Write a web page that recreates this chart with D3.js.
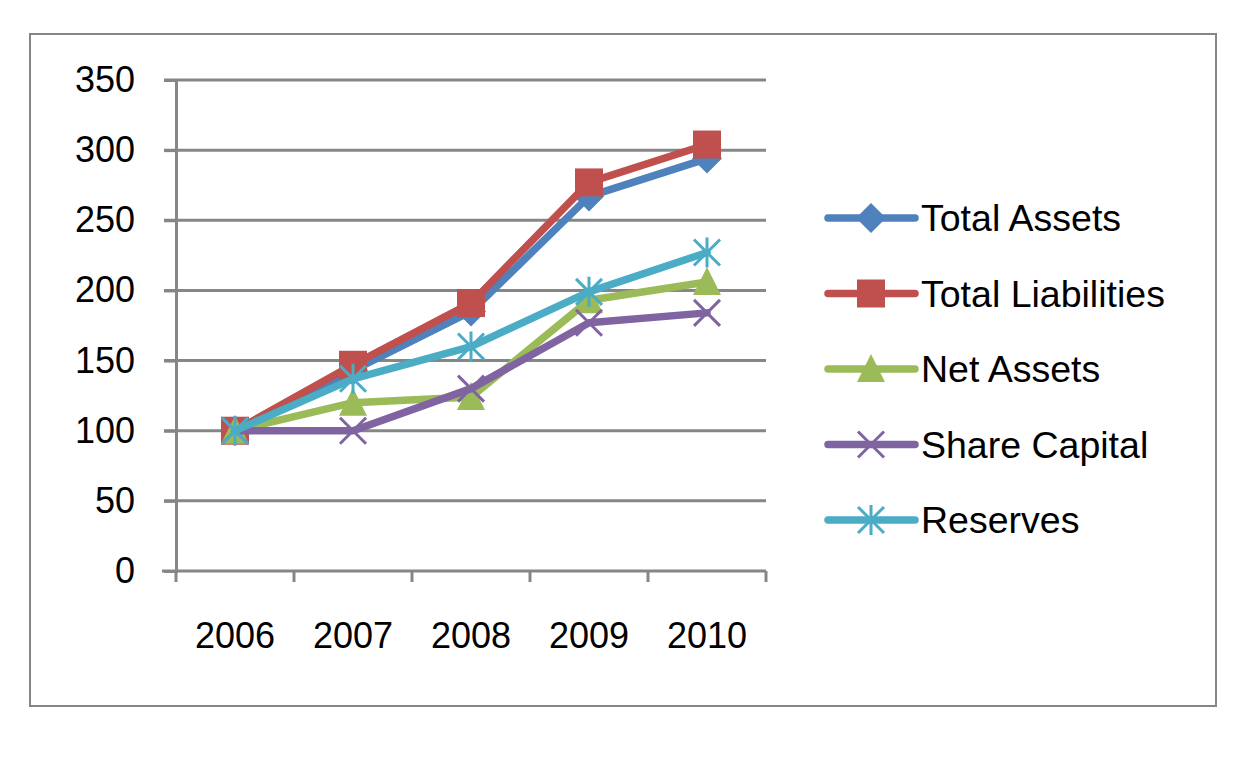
<!DOCTYPE html>
<html>
<head>
<meta charset="utf-8">
<script src="https://cdn.jsdelivr.net/npm/d3@7"></script>
<style>
  body { margin: 0; background: #fff; }
  text { font-family: "Liberation Sans", Arial, sans-serif; fill: #000; }
</style>
</head>
<body>
<script>
var years = ["2006", "2007", "2008", "2009", "2010"];
var yTicks = [0, 50, 100, 150, 200, 250, 300, 350];

var seriesNames = ["Total Assets", "Total Liabilities", "Net Assets", "Share Capital", "Reserves"];
var totalAssets = [100, 143, 185, 267, 294];
var totalLiabilities = [100, 147, 191, 277, 304];
var netAssets = [100, 120, 124, 193, 206];
var shareCapital = [100, 100, 130, 177, 184];
var reserves = [100, 137, 160, 199, 227];

var seriesColors = ["#4F81BD", "#C0504D", "#9BBB59", "#8064A2", "#4BACC6"];
var seriesMarkers = ["diamond", "square", "triangle", "x", "star"];

var seriesList = [totalAssets, totalLiabilities, netAssets, shareCapital, reserves].map(function (vals, i) {
    return { name: seriesNames[i], values: vals, color: seriesColors[i], marker: seriesMarkers[i] };
});

var svgDim = { width: 1241, height: 770 };
var plot = { left: 176, right: 766, top: 80, bottom: 571 };
var gridColor = "#868686";

var svg = d3.select("body").append("svg")
    .attr("width", svgDim.width)
    .attr("height", svgDim.height);

// chart border
svg.append("rect")
    .attr("x", 30).attr("y", 34)
    .attr("width", 1186).attr("height", 672)
    .attr("fill", "#fff")
    .attr("stroke", gridColor)
    .attr("stroke-width", 2);

var x = d3.scaleBand().domain(years).range([plot.left, plot.right]);
var y = d3.scaleLinear().domain([0, 350]).range([plot.bottom, plot.top]);

// gridlines
svg.append("g").selectAll("line")
    .data(yTicks.filter(function (d) { return d > 0; }))
    .enter().append("line")
    .attr("x1", plot.left - 12).attr("x2", plot.right)
    .attr("y1", function (d) { return y(d); })
    .attr("y2", function (d) { return y(d); })
    .attr("stroke", gridColor)
    .attr("stroke-width", 3);

// y axis
var yAxis = svg.append("g")
    .attr("transform", "translate(" + plot.left + ",0)")
    .call(d3.axisLeft(y).tickValues(yTicks).tickSize(12).tickPadding(29));
yAxis.select(".domain").attr("stroke", gridColor).attr("stroke-width", 3);
yAxis.selectAll(".tick line").attr("stroke", gridColor).attr("stroke-width", 3);
yAxis.selectAll(".tick text")
    .attr("font-size", 36)
    .attr("font-family", "Liberation Sans, Arial, sans-serif")
    .attr("fill", "#000");

// x axis
var xAxisG = svg.append("g");
xAxisG.append("line")
    .attr("x1", plot.left - 14).attr("x2", plot.right)
    .attr("y1", y(0)).attr("y2", y(0))
    .attr("stroke", gridColor).attr("stroke-width", 3);
var xBounds = years.map(function (d) { return x(d); }).concat([plot.right]);
xAxisG.selectAll(".xtick")
    .data(xBounds)
    .enter().append("line")
    .attr("x1", function (d) { return d; })
    .attr("x2", function (d) { return d; })
    .attr("y1", y(0)).attr("y2", y(0) + 11)
    .attr("stroke", gridColor).attr("stroke-width", 3);
xAxisG.selectAll(".xlab")
    .data(years)
    .enter().append("text")
    .attr("x", function (d) { return x(d) + x.bandwidth() / 2; })
    .attr("y", 648)
    .attr("text-anchor", "middle")
    .attr("font-size", 36)
    .text(function (d) { return d; });

function drawMarker(g, type, color) {
    if (type === "diamond") {
        g.append("path").attr("d", "M0,-15L15,0L0,15L-15,0Z").attr("fill", color);
    } else if (type === "square") {
        g.append("rect").attr("x", -14).attr("y", -14).attr("width", 28).attr("height", 28)
            .attr("fill", color);
    } else if (type === "triangle") {
        g.append("path").attr("d", "M0,-15L14,13L-14,13Z").attr("fill", color);
    } else if (type === "x") {
        g.append("path").attr("d", "M-13,-13L13,13M-13,13L13,-13")
            .attr("stroke", color).attr("stroke-width", 3).attr("fill", "none");
    } else if (type === "star") {
        g.append("path").attr("d", "M-13,-13L13,13M-13,13L13,-13M0,-15L0,15")
            .attr("stroke", color).attr("stroke-width", 3).attr("fill", "none");
    }
}

var line = d3.line()
    .x(function (d, i) { return x(years[i]) + x.bandwidth() / 2; })
    .y(function (d) { return y(d); });

seriesList.forEach(function (s) {
    var g = svg.append("g");
    g.append("path")
        .datum(s.values)
        .attr("d", line)
        .attr("fill", "none")
        .attr("stroke", s.color)
        .attr("stroke-width", 7.5)
        .attr("stroke-linejoin", "round")
        .attr("stroke-linecap", "round");
    s.values.forEach(function (v, i) {
        var m = g.append("g")
            .attr("transform", "translate(" + (x(years[i]) + x.bandwidth() / 2) + "," + y(v) + ")");
        drawMarker(m, s.marker, s.color);
    });
});

// legend
var legend = svg.append("g").attr("transform", "translate(828,218)");
seriesList.forEach(function (s, i) {
    var row = legend.append("g").attr("transform", "translate(0," + (i * 75.5) + ")");
    row.append("line")
        .attr("x1", 0).attr("x2", 87)
        .attr("stroke", s.color).attr("stroke-width", 7.5)
        .attr("stroke-linecap", "round");
    var m = row.append("g").attr("transform", "translate(43,0)");
    drawMarker(m, s.marker, s.color);
    row.append("text")
        .attr("x", 93).attr("y", 13)
        .attr("font-size", 37.5)
        .text(s.name);
});
</script>
</body>
</html>
